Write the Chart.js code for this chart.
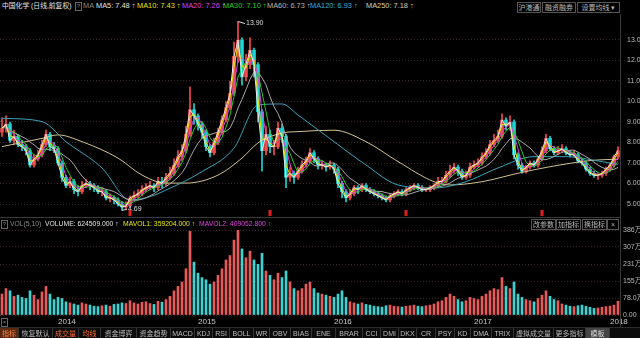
<!DOCTYPE html>
<html>
<head>
<meta charset="utf-8">
<script src="https://cdn.jsdelivr.net/npm/chart.js@4.4.0/dist/chart.umd.min.js"></script>
<style>
body{margin:0;background:#000;}
#wrap{position:relative;width:640px;height:338px;overflow:hidden;background:#000;font-family:"Liberation Sans","Noto Sans CJK SC",sans-serif;font-size:7px;color:#ccc;}
.t{position:absolute;white-space:nowrap;line-height:10px;font-size:7.4px;}
.s{font-size:6.8px;}
.box{position:absolute;border:1px solid #555;color:#bbb;height:9px;line-height:9px;text-align:center;white-space:nowrap;}
.q{position:absolute;border:1px solid #666;color:#888;width:5px;height:7px;line-height:7px;text-align:center;font-size:6px;}
.tab{position:absolute;top:0;height:11px;line-height:11px;text-align:center;color:#bbb;border-right:1px solid #333;white-space:nowrap;}
#tabs{position:absolute;left:0;top:327px;width:640px;height:11px;background:#0c0c0c;border-top:1px solid #2c2c2c;}
</style>
</head>
<body>
<div id="wrap">
	<!-- header -->
	<div class="t s" style="left:2px;top:1px;color:#e8e8e8">中国化学 (日线,前复权)</div>
	<div class="q" style="left:75px;top:2px">?</div>
	<div class="t" style="left:83px;top:1px;color:#888">MA</div>
	<div class="t" style="left:96px;top:1px;color:#e0e0e0">MA5: 7.48 ↑</div>
	<div class="t" style="left:137px;top:1px;color:#e6e600">MA10: 7.43 ↑</div>
	<div class="t" style="left:182px;top:1px;color:#e040e0">MA20: 7.26 ↑</div>
	<div class="t" style="left:223px;top:1px;color:#20d020">MA30: 7.10 ↑</div>
	<div class="t" style="left:267px;top:1px;color:#b8b8b8">MA60: 6.73 ↑</div>
	<div class="t" style="left:310px;top:1px;color:#30b0d0">MA120: 6.93 ↑</div>
	<div class="t" style="left:366px;top:1px;color:#dcd2a8">MA250: 7.18 ↑</div>
	<div class="box" style="left:517px;top:2px;width:22px">沪港通</div>
	<div class="box" style="left:542px;top:2px;width:32px">融资融券</div>
	<div class="box" style="left:577px;top:2px;width:41px">设置均线 ▾</div>

	<div style="position:absolute;left:0;top:14px;width:640px;height:203px"><canvas id="priceChart" width="640" height="203"></canvas></div>

	<div style="position:absolute;left:0;top:217px;width:620px;height:1px;background:#3a3a3a"></div>
	<div style="position:absolute;left:0;top:218px;width:640px;height:108px"><canvas id="volChart" width="640" height="108"></canvas></div>

	<!-- volume header -->
	<div class="q" style="left:1px;top:220px">?</div>
	<div class="t s" style="left:10px;top:219px;color:#888">VOL(5,10)</div>
	<div class="t s" style="left:45px;top:219px;color:#e0e0e0">VOLUME: 624509.000 ↑</div>
	<div class="t s" style="left:123px;top:219px;color:#e6e600">MAVOL1: 359204.000 ↑</div>
	<div class="t s" style="left:199px;top:219px;color:#e040e0">MAVOL2: 409052.800 ↑</div>
	<div class="box" style="left:531px;top:219px;width:23px">改参数</div>
	<div class="box" style="left:556px;top:219px;width:23px">加指标</div>
	<div class="box" style="left:582px;top:219px;width:23px">换指标</div>
	<div class="box" style="left:607px;top:219px;width:10px">×</div>

	<div class="q" style="left:1px;top:318px">×</div>
	<div style="position:absolute;left:620px;top:14px;width:1px;height:313px;background:#3a3a3a"></div>

	<div id="tabs"></div>
</div>

<script>
// Data (one point ~ 7 trading days, Sep 2013 - Jan 2018)
var closes = [
	8.7, 8.9, 8.1, 8.3, 7.9, 7.8, 7.6, 6.9, 7.2, 7.4,
	7.9, 8.4, 7.8, 7.7, 7.0, 6.3, 5.9, 6.1, 5.7, 5.6,
	5.9, 6.0, 5.9, 5.8, 5.6, 5.6, 5.3, 5.3, 5.2, 5.0,
	4.85, 4.9, 5.3, 5.4, 5.5, 5.7, 5.8, 5.9, 5.8, 6.1,
	6.0, 6.3, 6.5, 6.9, 7.3, 7.6, 8.4, 9.6, 9.3, 8.9,
	8.5, 7.8, 7.5, 8.0, 8.5, 9.1, 9.7, 10.4, 12.2, 13.0,
	11.2, 11.8, 12.5, 11.8, 9.5, 7.6, 8.4, 7.8, 7.8, 8.7,
	8.3, 6.3, 6.5, 6.3, 6.6, 6.9, 7.1, 7.5, 7.2, 6.9,
	6.9, 6.8, 6.9, 6.7, 6.0, 5.6, 5.3, 5.5, 5.8, 5.7,
	5.9, 5.7, 5.6, 5.5, 5.4, 5.3, 5.2, 5.4, 5.5, 5.6,
	5.5, 5.7, 5.8, 5.9, 5.8, 5.7, 5.7, 5.8, 5.9, 6.1,
	6.1, 6.4, 6.6, 6.8, 6.6, 6.3, 6.4, 6.8, 6.9, 7.0,
	7.3, 7.5, 7.9, 8.1, 8.3, 9.1, 8.8, 9.0, 7.4, 6.9,
	6.6, 6.8, 7.0, 6.9, 7.2, 7.6, 8.2, 7.7, 7.5, 7.6,
	7.7, 7.5, 7.4, 7.4, 7.1, 7.0, 6.7, 6.5, 6.4, 6.4,
	6.5, 6.7, 6.9, 7.3, 7.6
];
var highs = [
	9.2, 9.3, 9.0, 8.6, 8.4, 8.1, 7.9, 7.7, 7.4, 7.6,
	8.1, 8.6, 8.5, 8.0, 7.8, 7.1, 6.4, 6.3, 6.2, 5.9,
	6.1, 6.2, 6.1, 6.0, 5.9, 5.8, 5.7, 5.5, 5.4, 5.3,
	5.1, 5.1, 5.4, 5.6, 5.7, 5.9, 6.0, 6.1, 6.0, 6.3,
	6.3, 6.5, 6.8, 7.2, 7.6, 7.9, 8.8, 10.7, 9.9, 9.4,
	9.0, 8.6, 7.9, 8.2, 8.7, 9.3, 10.0, 11.0, 12.9, 13.9,
	13.1, 12.3, 13.1, 12.6, 11.9, 9.6, 8.8, 8.6, 8.1, 9.0,
	8.9, 8.4, 6.8, 6.6, 6.8, 7.1, 7.3, 7.7, 7.6, 7.3,
	7.1, 7.0, 7.1, 7.0, 6.8, 6.1, 5.7, 5.7, 5.9, 5.9,
	6.0, 6.0, 5.8, 5.7, 5.6, 5.5, 5.4, 5.5, 5.6, 5.7,
	5.7, 5.8, 5.9, 6.0, 6.0, 5.9, 5.8, 5.9, 6.0, 6.3,
	6.3, 6.6, 6.9, 7.0, 6.9, 6.7, 6.6, 7.0, 7.1, 7.2,
	7.5, 7.7, 8.1, 8.4, 8.6, 9.4, 9.2, 9.3, 9.1, 7.5,
	7.0, 6.9, 7.1, 7.1, 7.3, 7.8, 8.4, 8.3, 7.8, 7.8,
	7.9, 7.8, 7.6, 7.6, 7.5, 7.2, 7.1, 6.8, 6.6, 6.5,
	6.6, 6.8, 7.0, 7.4, 7.8
];
var lows = [
	8.3, 8.5, 8.0, 7.9, 7.8, 7.6, 7.4, 6.8, 6.8, 7.1,
	7.3, 7.8, 7.6, 7.5, 6.9, 6.1, 5.8, 5.8, 5.5, 5.4,
	5.5, 5.8, 5.7, 5.6, 5.5, 5.4, 5.2, 5.1, 5.0, 4.9,
	4.69, 4.75, 4.85, 5.2, 5.3, 5.4, 5.6, 5.7, 5.6, 5.7,
	5.8, 5.9, 6.2, 6.4, 6.8, 7.1, 7.5, 8.3, 8.9, 8.6,
	8.2, 7.6, 7.3, 7.4, 7.9, 8.4, 9.0, 9.6, 10.3, 11.9,
	10.8, 11.0, 11.6, 11.2, 9.0, 6.6, 7.4, 7.5, 7.4, 7.7,
	8.0, 5.8, 6.1, 6.0, 6.2, 6.5, 6.8, 7.0, 7.0, 6.7,
	6.7, 6.6, 6.7, 6.5, 5.8, 5.3, 5.1, 5.2, 5.4, 5.5,
	5.6, 5.6, 5.5, 5.4, 5.3, 5.2, 5.1, 5.1, 5.3, 5.4,
	5.4, 5.4, 5.6, 5.7, 5.7, 5.6, 5.6, 5.6, 5.7, 5.8,
	6.0, 6.0, 6.3, 6.5, 6.4, 6.2, 6.2, 6.3, 6.7, 6.8,
	6.9, 7.2, 7.4, 7.8, 8.0, 8.2, 8.6, 8.6, 7.2, 6.7,
	6.5, 6.5, 6.7, 6.8, 6.8, 7.1, 7.5, 7.6, 7.4, 7.4,
	7.5, 7.4, 7.3, 7.3, 7.0, 6.9, 6.6, 6.4, 6.3, 6.2,
	6.3, 6.4, 6.6, 6.8, 7.2
];
// volume in 万
var volumes = [
	95, 120, 110, 85, 90, 80, 75, 110, 90, 70,
	105, 130, 95, 70, 80, 75, 60, 55, 50, 45,
	55, 50, 45, 40, 38, 42, 45, 40, 48, 50,
	55, 52, 65, 55, 50, 58, 60, 52, 48, 62,
	58, 70, 85, 110, 130, 150, 210, 380, 240, 190,
	170, 160, 140, 150, 180, 210, 250, 270, 340, 386,
	300, 260, 290, 250, 230, 280, 200, 180, 160, 190,
	170, 200, 150, 120, 110, 120, 140, 150, 120, 100,
	95, 90, 85, 80, 95, 110, 80, 60, 55, 50,
	55, 48, 45, 40, 38, 36, 42, 45, 40, 38,
	36, 40, 42, 45, 40, 38, 42, 45, 50, 60,
	65, 80, 95, 85, 70, 60, 65, 80, 75, 70,
	85, 95, 110, 120, 115, 170, 130, 120, 150, 95,
	80, 70, 65, 60, 75, 90, 110, 85, 70, 65,
	50, 45, 40, 38, 42, 45, 40, 35, 30, 32,
	35, 38, 40, 45, 62.45
];
var openFirst = 8.5;

// long averages: [point index, value]
var ma120Keys = [[0, 9.18], [10, 9.02], [16, 8.04], [25, 6.76], [32, 5.2], [37, 5.36], [41, 5.68], [50, 6.58], [58, 7.73], [64, 9.83], [70, 9.88], [74, 9.34], [83, 8.04], [91, 6.9], [99, 5.93], [108, 5.78], [116, 6.09], [124, 6.76], [133, 7.31], [141, 7.31], [149, 7.1], [154, 6.93]];
var ma250Keys = [[0, 7.8], [10, 8.2], [14, 8.37], [20, 8.04], [29, 7.24], [35, 6.41], [41, 6.02], [46, 6.02], [54, 6.41], [60, 7.24], [64, 7.98], [70, 8.46], [74, 8.53], [83, 8.6], [91, 8.04], [99, 7.07], [108, 6.09], [112, 5.93], [120, 6.09], [129, 6.5], [137, 6.82], [145, 7.07], [149, 7.15], [154, 7.18]];

var maDays = [5, 10, 20, 30, 60];
var maColors = ['#e8e8e8', '#e6e600', '#e040e0', '#20d020', '#a8a8a8'];
var daysPerPoint = 7.07;

var yearLabels = ['2014', '2015', '2016', '2017', '2018'];
var yearStartIdx = [14, 49, 83, 118, 152];
var priceTicks = [5, 6, 7, 8, 9, 10, 11, 12, 13];
var volTickVals = [0, 77.2, 154.4, 231.6, 308.8, 386];
var volTickLabels = ['0.00', '78.0万', '155万', '231万', '307万', '386万'];
var dividendIdx = [32, 67, 101, 135];

var tabs = [
	['指标', 0, 19], ['恢复默认', 19, 34], ['成交量', 53, 26], ['均线', 79, 22], ['资金博弈', 101, 36],
	['资金趋势', 137, 34], ['MACD', 171, 24], ['KDJ', 195, 18], ['RSI', 213, 17], ['BOLL', 230, 24],
	['WR', 254, 16], ['OBV', 270, 21], ['BIAS', 291, 21], ['ENE', 312, 24], ['BRAR', 336, 27],
	['CCI', 363, 18], ['DMI', 381, 18], ['DKX', 399, 18], ['CR', 417, 19], ['PSY', 436, 19],
	['KD', 455, 16], ['DMA', 471, 21], ['TRIX', 492, 22], ['虚拟成交量', 514, 40], ['更多指标', 554, 32], ['模板', 586, 24]
];

var UP = '#f24b4b', DOWN = '#1cd4d4';

var opens = [openFirst].concat(closes.slice(0, -1));
var isUp = closes.map(function (c, i) { return c >= opens[i]; });
var labels = closes.map(function (c, i) { return i; });

function movingAvg(src, w) {
	return src.map(function (v, i) {
		var sum = 0, wt = 0, rem = w, k = i;
		while (rem > 0 && k >= 0) {
			var f = Math.min(1, rem);
			sum += src[k] * f; wt += f; rem -= 1; k--;
		}
		return sum / wt;
	});
}

function fromKeys(keys) {
	var arr = closes.map(function () { return null; });
	keys.forEach(function (k) { arr[k[0]] = k[1]; });
	return arr;
}

function lineSet(label, data, color, smooth) {
	return {
		type: 'line', label: label, data: data, borderColor: color, borderWidth: 1,
		pointRadius: 0, fill: false, order: 0, spanGaps: true,
		tension: smooth ? 0.4 : 0, cubicInterpolationMode: smooth ? 'monotone' : 'default'
	};
}

// fixed-size right axis, no label padding eating into the plot
function rightAxisFit(scale) {
	scale.width = 20;
	scale.paddingTop = 0;
	scale.paddingBottom = 0;
}

Chart.defaults.font.family = '"Liberation Sans", "Noto Sans CJK SC", sans-serif';
Chart.defaults.font.size = 7;
Chart.defaults.color = '#b8b8b8';

// tab bar
var tabBar = document.getElementById('tabs');
tabs.forEach(function (t) {
	var d = document.createElement('div');
	d.className = 'tab';
	d.textContent = t[0];
	d.style.left = t[1] + 'px';
	d.style.width = (t[2] - 1) + 'px';
	if (t[0] === '指标') { d.style.background = '#5a2a10'; d.style.color = '#ff8040'; }
	if (t[0] === '成交量' || t[0] === '均线') d.style.color = '#ff6a30';
	if (t[0] === '模板') { d.style.background = '#444'; d.style.color = '#ddd'; }
	tabBar.appendChild(d);
});

//Marks plugin: high / low labels and dividend flags
var marks = {
	id: 'marks',
	afterDatasetsDraw: function (chart) {
		var ctx = chart.ctx, xs = chart.scales.x, ys = chart.scales.y;
		var hi = Math.max.apply(null, highs), lo = Math.min.apply(null, lows);
		var hx = xs.getPixelForValue(highs.indexOf(hi)), hy = ys.getPixelForValue(hi);
		var lx = xs.getPixelForValue(lows.indexOf(lo)), ly = ys.getPixelForValue(lo);
		ctx.save();
		ctx.strokeStyle = '#dddddd';
		ctx.fillStyle = '#dddddd';
		ctx.lineWidth = 1;
		ctx.font = '7px "Liberation Sans", sans-serif';
		ctx.textBaseline = 'middle';
		ctx.beginPath();
		ctx.moveTo(hx, hy); ctx.lineTo(hx + 7, hy + 2);
		ctx.moveTo(lx, ly); ctx.lineTo(lx + 5, ly - 1);
		ctx.stroke();
		ctx.fillText(hi.toFixed(2), hx + 8, hy + 2);
		ctx.fillText(lo.toFixed(2), lx + 6, ly - 1);
		ctx.fillStyle = '#e02020';
		dividendIdx.forEach(function (i) {
			var px = xs.getPixelForValue(i);
			ctx.fillRect(Math.round(px) - 1.5, chart.chartArea.bottom - 7, 3, 6);
		});
		ctx.restore();
	}
};

//Price Chart
(function () {
	var datasets = maDays.map(function (d, k) {
		return lineSet('MA' + d, movingAvg(closes, d / daysPerPoint), maColors[k], false);
	});
	datasets.push(lineSet('MA120', fromKeys(ma120Keys), '#3aa0ba', true));
	datasets.push(lineSet('MA250', fromKeys(ma250Keys), '#cfc08e', true));
	datasets.push({
		type: 'bar', label: 'body', order: 1, grouped: false, barThickness: 3, minBarLength: 1,
		data: closes.map(function (c, i) { return [opens[i], c]; }),
		backgroundColor: isUp.map(function (u) { return u ? UP : DOWN; })
	});
	datasets.push({
		type: 'bar', label: 'wick', order: 2, grouped: false, barThickness: 1,
		data: highs.map(function (h, i) { return [lows[i], h]; }),
		backgroundColor: isUp.map(function (u) { return u ? UP : DOWN; })
	});

	new Chart(document.getElementById('priceChart').getContext('2d'), {
		type: 'bar',
		data: { labels: labels, datasets: datasets },
		options: {
			responsive: false,
			animation: false,
			devicePixelRatio: 1,
			layout: { padding: 0 },
			plugins: { legend: { display: false }, tooltip: { enabled: false } },
			scales: {
				x: { type: 'category', display: false, offset: true },
				y: {
					position: 'right', min: 4.366, max: 14.268,
					afterFit: rightAxisFit,
					afterBuildTicks: function (s) { s.ticks = priceTicks.map(function (v) { return { value: v }; }); },
					grid: { color: '#3a2626', drawTicks: false },
					border: { display: false, dash: [1, 2] },
					ticks: { padding: 7, color: '#b8b8b8', callback: function (v) { return v.toFixed(2); } }
				}
			}
		},
		plugins: [marks]
	});
})();

//Volume Chart
(function () {
	new Chart(document.getElementById('volChart').getContext('2d'), {
		type: 'bar',
		data: {
			labels: labels,
			datasets: [{
				label: 'VOLUME', data: volumes, barThickness: 2,
				backgroundColor: isUp.map(function (u) { return u ? '#e65a5a' : '#3fd2d2'; })
			}]
		},
		options: {
			responsive: false,
			animation: false,
			devicePixelRatio: 1,
			layout: { padding: { top: 12 } },
			plugins: { legend: { display: false }, tooltip: { enabled: false } },
			scales: {
				x: {
					type: 'category', offset: true,
					afterFit: function (s) { s.height = 11; s.paddingLeft = 0; s.paddingRight = 0; },
					grid: { display: false, drawTicks: false },
					border: { display: false },
					ticks: {
						autoSkip: false, maxRotation: 0, align: 'start', padding: 2, color: '#c8c8c8', font: { size: 8 },
						callback: function (v, i) { var k = yearStartIdx.indexOf(i); return k < 0 ? '' : yearLabels[k]; }
					}
				},
				y: {
					position: 'right', min: 0, max: 386,
					afterFit: rightAxisFit,
					afterBuildTicks: function (s) { s.ticks = volTickVals.map(function (v) { return { value: v }; }); },
					grid: { color: '#3a2626', drawTicks: false },
					border: { display: false, dash: [1, 2] },
					ticks: { padding: 3, color: '#b8b8b8', callback: function (v) { return volTickLabels[volTickVals.indexOf(v)]; } }
				}
			}
		}
	});
})();
</script>
</body>
</html>
